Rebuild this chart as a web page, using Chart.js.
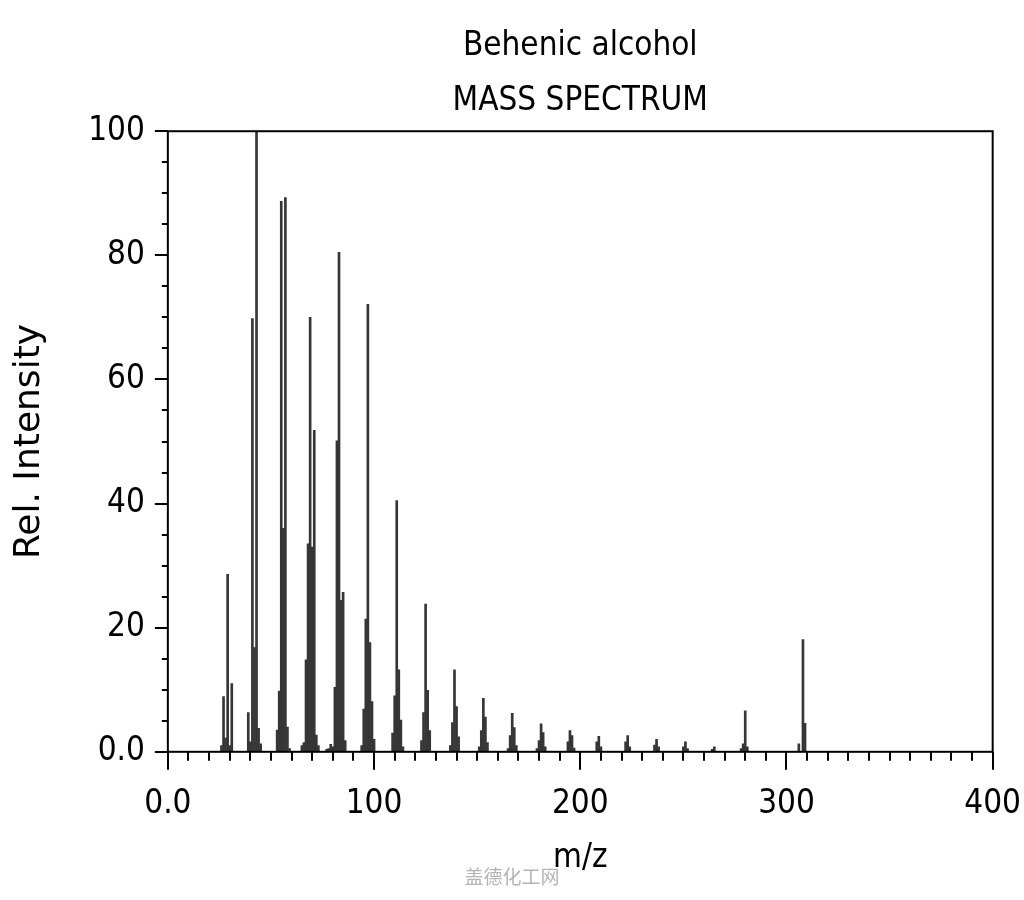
<!DOCTYPE html>
<html>
<head>
<meta charset="utf-8">
<title>Behenic alcohol — Mass Spectrum</title>
<script src="https://cdn.jsdelivr.net/npm/chart.js@4.4.1/dist/chart.umd.min.js"></script>
<style>
  html, body { margin: 0; padding: 0; background: #fff; }
  #wrap { position: relative; width: 1024px; height: 900px; }
  #mark {
    position: absolute; left: 0; top: 862px; width: 1024px;
    text-align: center; color: #b4b4b4;
    font: 19px 'Noto Sans CJK SC', sans-serif;
  }
</style>
</head>
<body>
<div id="wrap">
  <canvas id="spectrum" width="1024" height="900"></canvas>
  <div id="mark">盖德化工网</div>
</div>
<script>
// ─────────────────────────────────────────
//  Data
// ─────────────────────────────────────────
const mz = [
  26, 27, 28, 29, 30, 31,
  39, 40, 41, 42, 43, 44, 45,
  53, 54, 55, 56, 57, 58, 59,
  65, 66, 67, 68, 69, 70, 71, 72, 73,
  77, 78, 79, 80, 81, 82, 83, 84, 85, 86,
  94, 95, 96, 97, 98, 99, 100,
  109, 110, 111, 112, 113, 114,
  123, 124, 125, 126, 127,
  137, 138, 139, 140, 141,
  151, 152, 153, 154, 155,
  165, 166, 167, 168, 169,
  179, 180, 181, 182, 183,
  194, 195, 196, 197,
  208, 209, 210,
  222, 223, 224,
  236, 237, 238,
  250, 251, 252,
  264, 265,
  278, 279, 280, 281,
  306, 308, 309,
]
const intensity = [
  1.0, 8.9, 2.2, 28.6, 1.0, 11.0,
  6.3, 1.6, 69.8, 16.8, 100, 3.8, 1.3,
  3.5, 9.8, 88.7, 36.0, 89.3, 4.0, 0.5,
  1.0, 1.5, 14.8, 33.5, 70.0, 33.0, 51.8, 2.7, 1.0,
  0.4, 0.5, 1.2, 0.8, 10.4, 50.1, 80.5, 24.4, 25.7, 1.8,
  1.0, 6.9, 21.4, 72.1, 17.6, 8.1, 2.0,
  3.0, 9.0, 40.5, 13.2, 5.1, 0.8,
  1.8, 6.3, 23.8, 9.9, 3.4,
  1.0, 4.7, 13.2, 7.3, 2.4,
  0.8, 3.4, 8.6, 5.6, 1.5,
  0.5, 2.6, 6.2, 3.9, 1.0,
  0.5, 1.8, 4.5, 3.1, 0.8,
  1.6, 3.4, 2.6, 0.6,
  1.6, 2.5, 0.8,
  1.6, 2.6, 0.8,
  1.1, 2.0, 0.8,
  0.8, 1.6, 0.5,
  0.4, 0.8,
  0.5, 1.3, 6.6, 0.8,
  1.3, 18.1, 4.6,
]
const yTickLabels = ['0.0', '20', '40', '60', '80', '100']
const xTickLabels = ['0.0', '100', '200', '300', '400']
const titleLines  = ['Behenic alcohol', 'MASS SPECTRUM']

// ── Fonts ──────────────────────────────────────────────
const FAMILY = "'DejaVu Sans Condensed', 'DejaVu Sans', sans-serif"
const textFont = { family: FAMILY, size: 33 }

// ── Frame + outward tick marks (major / minor lengths) ──
const frameTicks = {
  id: 'frameTicks',
  afterDatasetsDraw(chart) {
    const { ctx, chartArea: a, scales: { x, y } } = chart
    ctx.save()
    ctx.strokeStyle = '#000'
    ctx.lineWidth = 2
    ctx.strokeRect(a.left, a.top, a.right - a.left, a.bottom - a.top)
    ctx.beginPath()
    y.ticks.forEach(t => {
      const py  = Math.round(y.getPixelForValue(t.value))
      const len = t.value % 20 === 0 ? 13 : 6
      ctx.moveTo(a.left - len, py)
      ctx.lineTo(a.left, py)
    })
    x.ticks.forEach(t => {
      const px  = Math.round(x.getPixelForValue(t.value))
      const len = t.value % 100 === 0 ? 18 : 9
      ctx.moveTo(px, a.bottom)
      ctx.lineTo(px, a.bottom + len)
    })
    ctx.stroke()
    ctx.restore()
  },
}

new Chart(document.getElementById('spectrum'), {
  type: 'bar',
  data: {
    datasets: [{
      data:            mz.map((m, i) => ({ x: m, y: intensity[i] })),
      backgroundColor: '#363636',
      borderWidth:     0,
      barThickness:    2,
    }],
  },
  options: {
    responsive: false,
    animation:  false,
    layout: { padding: { left: 8, right: 0, bottom: 22, top: 0 } },
    plugins: {
      legend:  { display: false },
      tooltip: { enabled: false },
      title: {
        display:   true,
        fullSize:  false,
        text:      titleLines,
        color:     '#000',
        font:      { ...textFont, weight: 'normal', lineHeight: 1.67 },
        padding:   { top: 19, bottom: 2 },
      },
    },
    scales: {
      x: {
        type:   'linear',
        min:    0,
        max:    400,
        offset: false,
        // ticks drawn by frameTicks; tickLength only sets the label gap
        grid:   { display: false, drawTicks: true, tickLength: 30 },
        border: { display: false },
        ticks: {
          stepSize:    10,
          autoSkip:    false,
          maxRotation: 0,
          padding:     3,
          color:       '#000',
          font:        textFont,
          callback:    v => (v % 100 === 0 ? xTickLabels[v / 100] : ''),
        },
        title: {
          display: true,
          text:    'm/z',
          color:   '#000',
          font:    textFont,
          padding: { top: 11, bottom: 0 },
        },
      },
      y: {
        min:    0,
        max:    100,
        grid:   { display: false, drawTicks: true, tickLength: 20 },
        border: { display: false },
        ticks: {
          stepSize: 5,
          autoSkip: false,
          padding:  3,
          color:    '#000',
          font:     textFont,
          callback: v => (v % 20 === 0 ? yTickLabels[v / 20] : ''),
        },
        title: {
          display: true,
          text:    'Rel. Intensity',
          color:   '#000',
          font:    { family: "'DejaVu Sans', sans-serif", size: 36 },
          padding: { top: 0, bottom: 34 },
        },
      },
    },
  },
  plugins: [frameTicks],
})
</script>
</body>
</html>
